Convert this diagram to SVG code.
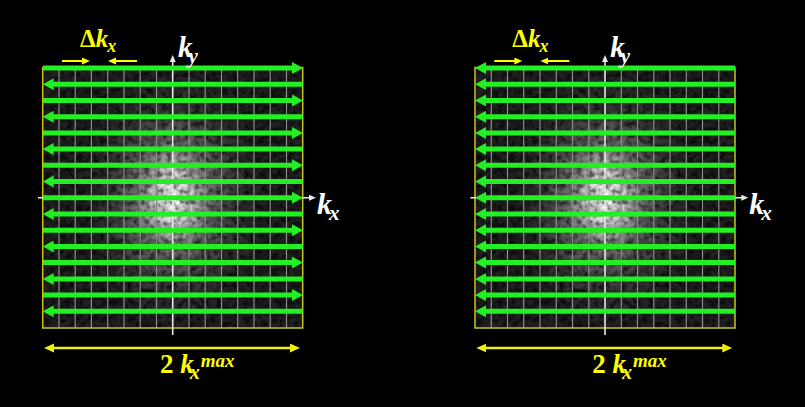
<svg xmlns="http://www.w3.org/2000/svg" width="805" height="407" viewBox="0 0 805 407">
<style>
.grid{stroke:#8c8c8c;stroke-width:1.2}
.gr{stroke:#22f022;stroke-width:5;fill:none;marker-end:url(#gh)}
.yl{stroke:#ffff00;stroke-width:2;fill:none}
.dbl{stroke:#eeee10;stroke-width:2.5;fill:none;marker-start:url(#yh2);marker-end:url(#yh2)}
.ax{stroke:#e8e8e8;stroke-width:1.6;fill:none;marker-end:url(#wh)}
.lab{font-family:"Liberation Serif","Times New Roman",serif;}
</style>
<defs>
<marker id="gh" markerUnits="userSpaceOnUse" markerWidth="13" markerHeight="13" refX="3" refY="6" orient="auto"><path d="M0,0 L11,6 L0,12 z" fill="#22f022"/></marker>
<marker id="yh" markerUnits="userSpaceOnUse" markerWidth="9" markerHeight="8" refX="2" refY="3.5" orient="auto"><path d="M0,0 L8,3.5 L0,7 z" fill="#ffff00"/></marker>
<marker id="yh2" markerUnits="userSpaceOnUse" markerWidth="11" markerHeight="10" refX="3" refY="4.5" orient="auto-start-reverse"><path d="M0,0 L10,4.5 L0,9 z" fill="#eeee10"/></marker>
<marker id="wh" markerUnits="userSpaceOnUse" markerWidth="8" markerHeight="7" refX="2" refY="3" orient="auto"><path d="M0,0 L7,3 L0,6 z" fill="#e8e8e8"/></marker>
<radialGradient id="glow" cx="0.5" cy="0.5" r="0.5" gradientTransform="translate(0.5,0.5) scale(0.7,1) translate(-0.5,-0.5)">
<stop offset="0" stop-color="#e8e8e8"/>
<stop offset="0.2" stop-color="#b0b0b0"/>
<stop offset="0.42" stop-color="#5a5a5a"/>
<stop offset="0.7" stop-color="#2e2e2e"/>
<stop offset="1" stop-color="#1a1a1a"/>
</radialGradient>
<filter id="noise" x="0" y="0" width="1" height="1">
<feTurbulence type="fractalNoise" baseFrequency="0.18" numOctaves="2" seed="5" result="t"/>
<feColorMatrix in="t" type="matrix" values="2.2 0 0 0 -0.6  2.2 0 0 0 -0.6  2.2 0 0 0 -0.6  0 0 0 0 1" result="g"/>
<feComposite in="g" in2="SourceGraphic" operator="arithmetic" k1="1.3" k2="0" k3="0.25" k4="0"/>
</filter>
<g id="grid">
<rect x="42.7" y="67.5" width="260" height="260.5" fill="url(#glow)" filter="url(#noise)"/>
<path class="grid" d="M59,67.5V328 M75.2,67.5V328 M91.4,67.5V328 M107.7,67.5V328 M124,67.5V328 M140.2,67.5V328 M156.5,67.5V328 M189,67.5V328 M205.2,67.5V328 M221.5,67.5V328 M237.7,67.5V328 M254,67.5V328 M270.2,67.5V328 M286.5,67.5V328"/>
<rect x="42.7" y="67.5" width="260" height="260.5" fill="none" stroke="#c8c420" stroke-width="1.5"/>
<line class="ax" x1="172.7" y1="335" x2="172.7" y2="60"/>
<line class="ax" x1="38" y1="197.7" x2="311" y2="197.7"/>
</g>
<g id="labels">
<text class="lab" x="80" y="47" font-size="25" font-weight="bold" fill="#ffff00">Δ<tspan font-style="italic">k</tspan><tspan font-style="italic" font-size="18" dy="5" dx="-1">x</tspan></text>
<line class="yl" x1="62" y1="61" x2="84" y2="61" marker-end="url(#yh)"/>
<line class="yl" x1="137" y1="61" x2="114" y2="61" marker-end="url(#yh)"/>
<text class="lab" x="178" y="56.5" font-size="29" font-weight="bold" font-style="italic" fill="#fff">k<tspan font-size="21" dy="6" dx="-4">y</tspan></text>
<text class="lab" x="317" y="214" font-size="30" font-weight="bold" font-style="italic" fill="#fff">k<tspan font-size="21" dy="6" dx="-3">x</tspan></text>
<line class="dbl" x1="51" y1="348" x2="293" y2="348"/>
<text class="lab" x="160" y="373" font-size="27" font-weight="bold" fill="#ffff00">2 <tspan font-style="italic">k</tspan><tspan font-style="italic" font-size="20" dy="6" dx="-4">x</tspan><tspan font-style="italic" font-size="19" dy="-12" dx="1">max</tspan></text>
</g>
</defs>
<rect width="805" height="407" fill="#000"/>
<g id="panel-left">
<use href="#grid"/>
<g id="trajectory-left">
<path class="gr" d="M43,68 H295"/>
<path class="gr" d="M302.7,84.2 H50.7"/>
<path class="gr" d="M43,100.4 H295"/>
<path class="gr" d="M302.7,116.7 H50.7"/>
<path class="gr" d="M43,132.9 H295"/>
<path class="gr" d="M302.7,149.1 H50.7"/>
<path class="gr" d="M43,165.3 H295"/>
<path class="gr" d="M302.7,181.5 H50.7"/>
<path class="gr" d="M43,197.8 H295"/>
<path class="gr" d="M302.7,214 H50.7"/>
<path class="gr" d="M43,230.2 H295"/>
<path class="gr" d="M302.7,246.4 H50.7"/>
<path class="gr" d="M43,262.6 H295"/>
<path class="gr" d="M302.7,278.9 H50.7"/>
<path class="gr" d="M43,295.1 H295"/>
<path class="gr" d="M302.7,311.3 H50.7"/>
</g>
<use href="#labels"/>
</g>
<g id="panel-right" transform="translate(432.3,0)">
<use href="#grid"/>
<g id="trajectory-right">
<path class="gr" d="M302.7,68 H50.7"/>
<path class="gr" d="M302.7,84.2 H50.7"/>
<path class="gr" d="M302.7,100.4 H50.7"/>
<path class="gr" d="M302.7,116.7 H50.7"/>
<path class="gr" d="M302.7,132.9 H50.7"/>
<path class="gr" d="M302.7,149.1 H50.7"/>
<path class="gr" d="M302.7,165.3 H50.7"/>
<path class="gr" d="M302.7,181.5 H50.7"/>
<path class="gr" d="M302.7,197.8 H50.7"/>
<path class="gr" d="M302.7,214 H50.7"/>
<path class="gr" d="M302.7,230.2 H50.7"/>
<path class="gr" d="M302.7,246.4 H50.7"/>
<path class="gr" d="M302.7,262.6 H50.7"/>
<path class="gr" d="M302.7,278.9 H50.7"/>
<path class="gr" d="M302.7,295.1 H50.7"/>
<path class="gr" d="M302.7,311.3 H50.7"/>
</g>
<use href="#labels"/>
</g>
</svg>
